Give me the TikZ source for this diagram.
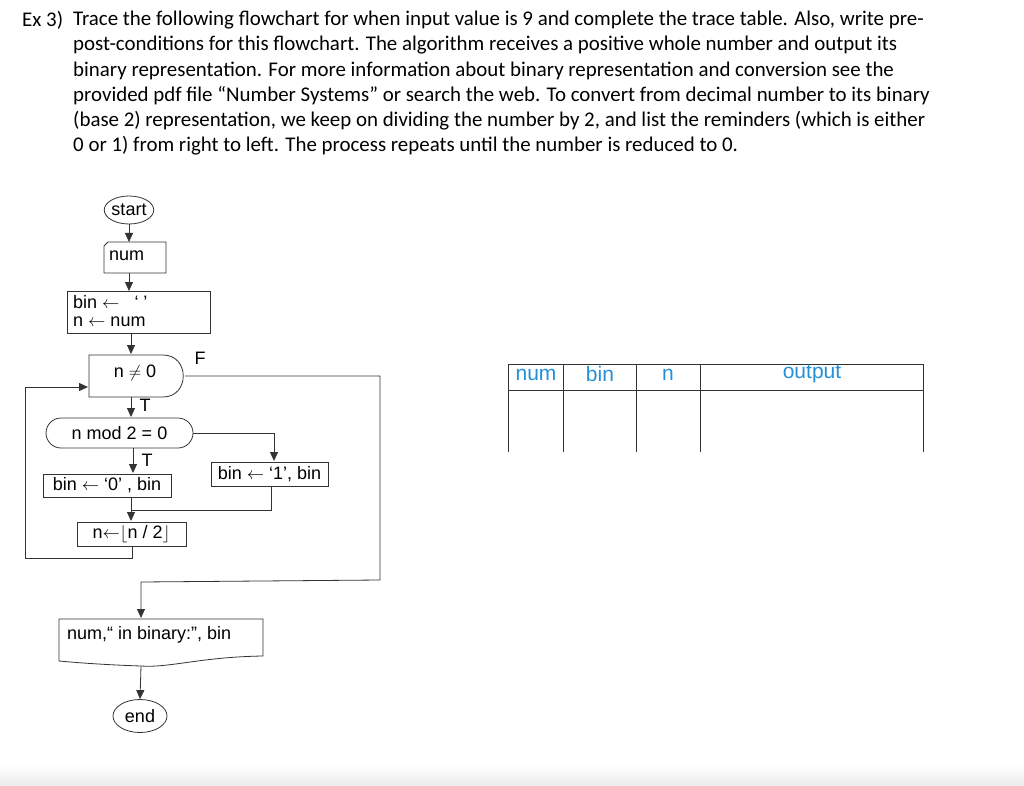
\documentclass[tikz,border=0pt]{standalone}
\usepackage{fontspec}
\setmainfont{Carlito}
\newfontfamily\ar{Liberation Sans}
\usetikzlibrary{arrows.meta,shapes.geometric}
\begin{document}
\begin{tikzpicture}[x=1pt,y=-1pt,
  ln/.style={line width=0.8pt,draw=black!80},
  ar/.style={ln,-{Triangle[length=9pt,width=8pt]}},
  tx/.style={font=\ar\fontsize{18}{21}\selectfont,inner sep=0pt},
  para/.style={anchor=west,inner sep=0pt,font=\fontsize{20.9}{24}\selectfont},
  hd/.style={font=\ar\fontsize{21}{24}\selectfont,text=cyan!70!blue!90,inner sep=0pt}]
\useasboundingbox (0,0) rectangle (1024,786);
\fill[white] (0,0) rectangle (1024,786);
\shade[top color=white,bottom color=black!8] (0,765) rectangle (1024,786);
% paragraph
\node[para] (ex) at (22,20) {Ex 3)};
\node[para] (l1) at (73,20) {Trace the following flowchart for when input value is 9 and complete the trace table. Also, write pre-};
\node[para] (l2) at (73,45) {post-conditions for this flowchart. The algorithm receives a positive whole number and output its};
\node[para] (l3) at (73,71) {binary representation. For more information about binary representation and conversion see the};
\node[para] (l4) at (73,96) {provided pdf file “Number Systems” or search the web. To convert from decimal number to its binary};
\node[para] (l5) at (73,121) {(base 2) representation, we keep on dividing the number by 2, and list the reminders (which is either};
\node[para] (l6) at (73,146) {0 or 1) from right to left. The process repeats until the number is reduced to 0.};
% start
\node[ellipse,ln,draw,minimum width=48pt,minimum height=28pt,inner sep=0pt,tx] (start) at (129,210) {start};
% num input
\node[tx,minimum width=62pt,minimum height=31pt] (num) at (135,257.5) {};
\draw[ln] (108,242)--(166,242)--(166,273)--(104,273)--(104,246)--cycle;
\node[tx,anchor=west] at (109,256) {num};
% init
\node[ln,draw,minimum width=143pt,minimum height=42pt,inner sep=0pt] (init) at (138.5,312) {};
\node[tx,anchor=west] at (73,302) {bin $\leftarrow$ \ \ ‘ ’};
\node[tx,anchor=west] at (73,322) {n $\leftarrow$ num};
% n != 0
\node[tx,minimum width=96pt,minimum height=42pt] (cond) at (137,376) {};
\draw[ln] (89,355)--(163,355) .. controls (190,355) and (190,397) .. (163,397)--(89,397)--cycle;
\node[tx] at (135,373) {n $\neq$ 0};
\node[tx] at (200,358) {F};
% n mod 2
\node[tx,ln,draw,rounded corners=15pt,minimum width=147pt,minimum height=30pt] (mod) at (119.5,433) {n mod 2 = 0};
\node[tx] at (145,405) {T};
\node[tx] at (147,460) {T};
% bin0
\node[tx,ln,draw,minimum width=128pt,minimum height=23pt] (b0) at (107,485.5) {bin $\leftarrow$ ‘0’ , bin};
\node[tx,ln,draw,minimum width=117pt,minimum height=24pt] (b1) at (269.5,474) {bin $\leftarrow$ ‘1’, bin};
% half
\node[tx,ln,draw,minimum width=109pt,minimum height=24pt] (half) at (131.5,534) {n$\leftarrow$$\lfloor$n / 2$\rfloor$};
% output
\node[tx,minimum width=204pt,minimum height=47pt] (out) at (161,642) {};
\draw[ln] (59,619)--(263,619)--(263,656) .. controls (200,657) and (170,668) .. (141,666) .. controls (110,665) and (80,663) .. (59,661)--cycle;
\node[tx,anchor=west] at (67,635) {num,“ in binary:”, bin};
% end
\node[ellipse,ln,draw,minimum width=54pt,minimum height=33pt,inner sep=0pt,tx] (end) at (140,716) {end};
% connectors
\coordinate (j) at (131,510);
\draw[ar] (start.south) -- (129,242);
\draw[ar] (129,273) -- (129,291);
\draw[ar] (131,333) -- (131,354);
\draw[ar] (131,397) -- (131,417);
\draw[ar] (133,448) -- (133,473);
\draw[ar] (mod.east) -- (274,433) -- (274,461);
\draw[ln] (271,486) -- (271,510) -- (j);
\draw[ar] (131,497) -- (131,521);
\draw[ar] (132,546) -- (132,558) -- (25,558) -- (25,387) -- (88,387);
\draw[ar] (185,376) -- (380,376) -- (380,580) -- (141,582) -- (141,618);
\draw[ar] (141,666) -- (end.north);
% table
\draw[ln] (508,452)--(508,364)--(923,364)--(923,452);
\draw[ln] (508,390)--(923,390);
\draw[ln] (563,364)--(563,452) (636,364)--(636,452) (700,364)--(700,452);
\node[hd] (h1) at (536,375) {num};
\node[hd] (h2) at (600,374) {bin};
\node[hd] (h3) at (668,375) {n};
\node[hd] (h4) at (812,374) {output};
\end{tikzpicture}
\end{document}
